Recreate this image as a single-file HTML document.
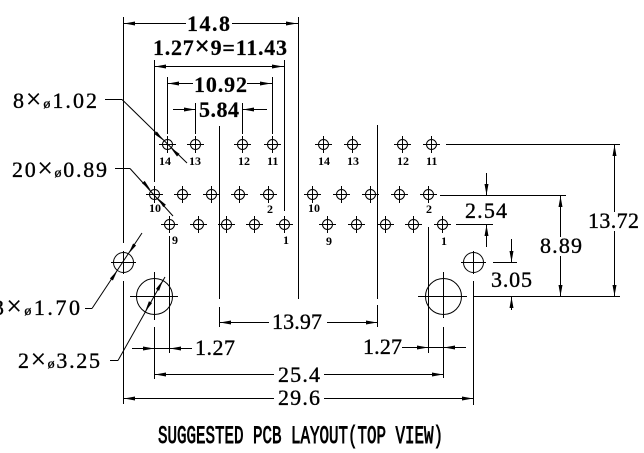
<!DOCTYPE html>
<html><head><meta charset="utf-8"><style>
html,body{margin:0;padding:0;background:#fff;}
svg{display:block;}
text{font-family:"Liberation Serif",serif;fill:#000;}
.b{font-weight:bold;}
.pl{font-size:12px;font-weight:bold;}
.d{font-size:22px;stroke:#000;stroke-width:0.35;}
.b.d{stroke-width:0.2;}
</style></head><body>
<svg width="644" height="453" viewBox="0 0 644 453" xmlns="http://www.w3.org/2000/svg">
<rect width="644" height="453" fill="#fff"/>
<g stroke="#000" stroke-width="1" fill="none">
<path d="M123 23.5H186M232 23.5H298"/>
<path d="M154 66.5H284"/>
<path d="M167 83.5H193M247 83.5H272"/>
<path d="M173 109.5H195M243 109.5H267"/>
<path d="M105 99.5H122M115 168.5H130M85 308.5H92M110 360.5H118"/>
<path d="M219 322.5H269M327 322.5H377"/>
<path d="M132 348.5H192"/>
<path d="M154 374.5H274M324 374.5H443"/>
<path d="M123 398.5H274M324 398.5H474"/>
<path d="M402 347.5H466"/>
<path d="M446 144.5H620M440 195.5H566M456 224.5H493M493 262.5H517M473 296.5H620"/>
<path d="M123.5 17V243M123.5 281V404"/>
<path d="M298.5 17V299"/>
<path d="M154.5 60V182M154.5 327V379"/>
<path d="M284.5 60V211"/>
<path d="M167.5 77V134M272.5 77V134M195.5 103V134M242.5 103V134"/>
<path d="M219.5 126V299M219.5 307V327"/>
<path d="M169.5 236V353"/>
<path d="M377.5 125V299M377.5 305V327"/>
<path d="M428.5 227V353"/>
<path d="M443.5 327V378"/>
<path d="M473.5 281V405"/>
<path d="M614.5 144V212M614.5 231V296"/>
<path d="M560.5 195V237M560.5 256V296"/>
<path d="M486.5 173V195M486.5 224V247"/>
<path d="M511.5 239V262M511.5 296V310"/>
<path d="M122 99.5L187 163"/>
<path d="M130 168.5L173 216"/>
<path d="M142 233L92 308.5"/>
<path d="M165 277L118 360.5"/>
<circle cx="154.5" cy="296.5" r="18"/>
<circle cx="443.5" cy="296.5" r="18"/>
<path d="M130 296.5H178M154.5 272V320M418 296.5H467M443.5 272V318"/>
<circle cx="123.5" cy="262.5" r="10"/>
<circle cx="473.5" cy="262.5" r="10"/>
<path d="M111 262.5H136M123.5 251V274M461 262.5H486M473.5 251V274"/>
<circle cx="167.5" cy="144.5" r="5"/><path d="M159 144.5H176M167.5 136V153"/>
<circle cx="195.5" cy="144.5" r="5"/><path d="M187 144.5H204M195.5 136V153"/>
<circle cx="242.5" cy="144.5" r="5"/><path d="M234 144.5H251M242.5 136V153"/>
<circle cx="272.5" cy="144.5" r="5"/><path d="M264 144.5H281M272.5 136V153"/>
<circle cx="154.5" cy="194.5" r="5"/><path d="M146 194.5H163M154.5 186V203"/>
<circle cx="182.5" cy="194.5" r="5"/><path d="M174 194.5H191M182.5 186V203"/>
<circle cx="211.5" cy="194.5" r="5"/><path d="M203 194.5H220M211.5 186V203"/>
<circle cx="239.5" cy="194.5" r="5"/><path d="M231 194.5H248M239.5 186V203"/>
<circle cx="268.5" cy="194.5" r="5"/><path d="M260 194.5H277M268.5 186V203"/>
<circle cx="169.5" cy="224.5" r="5"/><path d="M161 224.5H178M169.5 216V233"/>
<circle cx="198.5" cy="224.5" r="5"/><path d="M190 224.5H207M198.5 216V233"/>
<circle cx="226.5" cy="224.5" r="5"/><path d="M218 224.5H235M226.5 216V233"/>
<circle cx="254.5" cy="224.5" r="5"/><path d="M246 224.5H263M254.5 216V233"/>
<circle cx="284.5" cy="224.5" r="5"/><path d="M276 224.5H293M284.5 216V233"/>
<circle cx="323.5" cy="144.5" r="5"/><path d="M315 144.5H332M323.5 136V153"/>
<circle cx="352.5" cy="144.5" r="5"/><path d="M344 144.5H361M352.5 136V153"/>
<circle cx="402.5" cy="144.5" r="5"/><path d="M394 144.5H411M402.5 136V153"/>
<circle cx="431.5" cy="144.5" r="5"/><path d="M423 144.5H440M431.5 136V153"/>
<circle cx="312.5" cy="194.5" r="5"/><path d="M304 194.5H321M312.5 186V203"/>
<circle cx="341.5" cy="194.5" r="5"/><path d="M333 194.5H350M341.5 186V203"/>
<circle cx="370.5" cy="194.5" r="5"/><path d="M362 194.5H379M370.5 186V203"/>
<circle cx="399.5" cy="194.5" r="5"/><path d="M391 194.5H408M399.5 186V203"/>
<circle cx="428.5" cy="194.5" r="5"/><path d="M420 194.5H437M428.5 186V203"/>
<circle cx="327.5" cy="224.5" r="5"/><path d="M319 224.5H336M327.5 216V233"/>
<circle cx="356.5" cy="224.5" r="5"/><path d="M348 224.5H365M356.5 216V233"/>
<circle cx="385.5" cy="224.5" r="5"/><path d="M377 224.5H394M385.5 216V233"/>
<circle cx="413.5" cy="224.5" r="5"/><path d="M405 224.5H422M413.5 216V233"/>
<circle cx="442.5" cy="224.5" r="5"/><path d="M434 224.5H451M442.5 216V233"/>
</g>
<g fill="#000" stroke="none">
<polygon points="124,23.5 135,21.5 135,25.5"/>
<polygon points="297,23.5 286,21.5 286,25.5"/>
<polygon points="155,66.5 166,64.5 166,68.5"/>
<polygon points="283,66.5 272,64.5 272,68.5"/>
<polygon points="168,83.5 179,81.5 179,85.5"/>
<polygon points="271,83.5 260,81.5 260,85.5"/>
<polygon points="195,109.5 184,107.5 184,111.5"/>
<polygon points="243,109.5 254,107.5 254,111.5"/>
<polygon points="220,322.5 231,320.5 231,324.5"/>
<polygon points="377,322.5 366,320.5 366,324.5"/>
<polygon points="154,348.5 143,346.5 143,350.5"/>
<polygon points="170,348.5 181,346.5 181,350.5"/>
<polygon points="155,374.5 166,372.5 166,376.5"/>
<polygon points="443,374.5 432,372.5 432,376.5"/>
<polygon points="124,398.5 135,396.5 135,400.5"/>
<polygon points="473,398.5 462,396.5 462,400.5"/>
<polygon points="428,347.5 417,345.5 417,349.5"/>
<polygon points="444,347.5 455,345.5 455,349.5"/>
<polygon points="614.5,145 612.5,156 616.5,156"/>
<polygon points="614.5,296 612.5,285 616.5,285"/>
<polygon points="560.5,196 558.5,207 562.5,207"/>
<polygon points="560.5,296 558.5,285 562.5,285"/>
<polygon points="486.5,195 484.5,184 488.5,184"/>
<polygon points="486.5,225 484.5,236 488.5,236"/>
<polygon points="511.5,262 509.5,251 513.5,251"/>
<polygon points="511.5,297 509.5,308 513.5,308"/>
<polygon points="163.5,140.5 154.4,134.1 156.9,131.5"/>
<polygon points="170.5,147.5 179.6,153.9 177.0,156.5"/>
<polygon points="150.7,190.3 142.0,183.3 144.7,180.9"/>
<polygon points="157.3,197.7 165.9,204.7 163.3,207.1"/>
<polygon points="128.5,253.7 133.1,243.5 136.1,245.5"/>
<polygon points="117.5,270.3 112.9,280.5 109.9,278.5"/>
<polygon points="162.9,280.3 159.1,290.8 155.9,289.0"/>
<polygon points="145.1,311.7 148.9,301.2 152.1,303.0"/>
</g>
<text class="d b" x="187" y="31" textLength="43">14.8</text>
<text class="d b" x="153" y="55" textLength="134">1.27<tspan font-size="27">×</tspan>9=11.43</text>
<text class="d b" x="194" y="92" textLength="53">10.92</text>
<text class="d b" x="199" y="117" textLength="40">5.84</text>
<text class="d" x="13" y="108" textLength="84">8<tspan font-size="27">×</tspan><tspan font-size="14">ø</tspan>1.02</text>
<text class="d" x="12" y="177" textLength="95">20<tspan font-size="27">×</tspan><tspan font-size="14">ø</tspan>0.89</text>
<text class="d" x="-7" y="315" textLength="87">3<tspan font-size="27">×</tspan><tspan font-size="14">ø</tspan>1.70</text>
<text class="d" x="18" y="368" textLength="82">2<tspan font-size="27">×</tspan><tspan font-size="14">ø</tspan>3.25</text>
<text class="d" x="588" y="228" textLength="51">13.72</text>
<text class="d" x="540" y="253" textLength="42">8.89</text>
<text class="d" x="465" y="218" textLength="42">2.54</text>
<text class="d" x="491" y="287" textLength="41">3.05</text>
<text class="d" x="272" y="329" textLength="50">13.97</text>
<text class="d" x="195" y="355" textLength="40">1.27</text>
<text class="d" x="363" y="354" textLength="39">1.27</text>
<text class="d" x="278" y="382" textLength="42">25.4</text>
<text class="d" x="278" y="405" textLength="42">29.6</text>
<text class="pl" x="159" y="165">14</text>
<text class="pl" x="189" y="165">13</text>
<text class="pl" x="238" y="165">12</text>
<text class="pl" x="267" y="165">11</text>
<text class="pl" x="149" y="212">10</text>
<text class="pl" x="267" y="213">2</text>
<text class="pl" x="172" y="244">9</text>
<text class="pl" x="283" y="244">1</text>
<text class="pl" x="318" y="165">14</text>
<text class="pl" x="347" y="165">13</text>
<text class="pl" x="397" y="165">12</text>
<text class="pl" x="426" y="165">11</text>
<text class="pl" x="308" y="212">10</text>
<text class="pl" x="426" y="213">2</text>
<text class="pl" x="326" y="245">9</text>
<text class="pl" x="441" y="245">1</text>
<text x="158" y="443" font-size="25" stroke="#000" stroke-width="0.9" style="font-family:'Liberation Mono',monospace" textLength="285" lengthAdjust="spacingAndGlyphs">SUGGESTED PCB LAYOUT(TOP VIEW)</text>
</svg>
</body></html>
